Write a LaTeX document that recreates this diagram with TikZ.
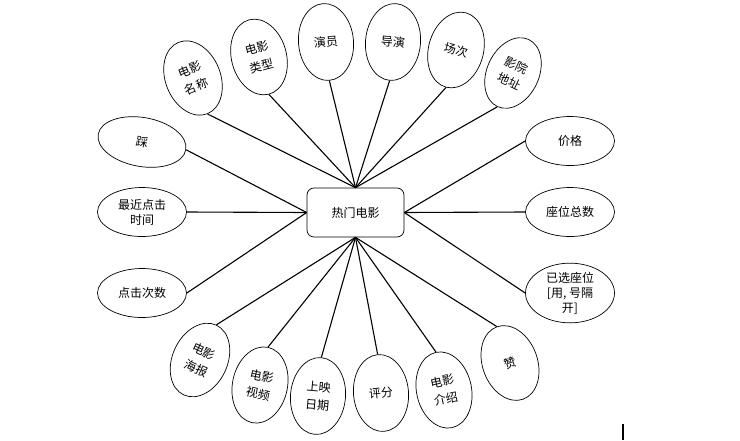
\documentclass[tikz,border=0pt]{standalone}
\usepackage{fontspec}
\newfontfamily\cjk{Noto Sans CJK SC}
\usetikzlibrary{shapes.geometric}

\begin{document}
\begin{tikzpicture}[x=1pt,y=-1pt,font=\cjk\fontsize{12}{15}\selectfont,
  attr/.style={draw,ellipse,line width=0.7pt,inner sep=0pt,align=center,minimum width=55pt,minimum height=77pt},
  wide/.style={draw,ellipse,line width=0.7pt,inner sep=0pt,align=center,minimum width=89pt,minimum height=49pt},
  link/.style={line width=1.1pt}]
  \useasboundingbox (0,0) rectangle (740,440);
  \node[draw,line width=0.7pt,rounded corners=7pt,minimum width=97pt,minimum height=49pt] (hot) at (355.5,212.5) {热门电影};
  \node[attr,rotate=22] (mingcheng) at (193,78) {电影\\[3pt]名称};
  \node[attr,rotate=15] (leixing) at (259,57) {电影\\[3pt]类型};
  \node[attr,rotate=5] (yanyuan) at (326,42) {演员};
  \node[attr,rotate=-5] (daoyan) at (393,42) {导演};
  \node[attr,rotate=-15] (changci) at (456,50) {场次};
  \node[attr,rotate=-25,minimum width=52pt,minimum height=74pt] (dizhi) at (513,73) {影院\\[3pt]地址};
  \node[wide,rotate=-10] (cai) at (142,142) {踩};
  \node[wide] (shijian) at (142,212) {最近点击\\时间};
  \node[wide] (cishu) at (142,293) {点击次数};
  \node[wide] (jiage) at (570,141) {价格};
  \node[wide] (zongshu) at (570,212) {座位总数};
  \node[wide] (yixuan) at (570,293) {已选座位\\{[}用, 号隔\\开]};
  \node[attr,rotate=-25] (haibao) at (200,360) {电影\\[3pt]海报};
  \node[attr,rotate=-12] (shipin) at (260,385) {电影\\[3pt]视频};
  \node[attr,rotate=-5] (riqi) at (318,396) {上映\\[3pt]日期};
  \node[attr,rotate=5] (pingfen) at (381,393) {评分};
  \node[attr,rotate=12] (jieshao) at (444,390) {电影\\[3pt]介绍};
  \node[attr,rotate=20] (zan) at (510,363) {赞};
  \foreach \n in {mingcheng,leixing,yanyuan,daoyan,changci,dizhi}
    \draw[link] (\n.south)--(hot.north);
  \foreach \n in {haibao,shipin,riqi,pingfen,jieshao,zan}
    \draw[link] (\n.north)--(hot.south);
  \foreach \n in {cai,shijian,cishu}
    \draw[link] (\n.east)--(hot.west);
  \foreach \n in {jiage,zongshu,yixuan}
    \draw[link] (\n.west)--(hot.east);
  \draw[line width=2pt] (623,424)--(623,440);
\end{tikzpicture}
\end{document}
